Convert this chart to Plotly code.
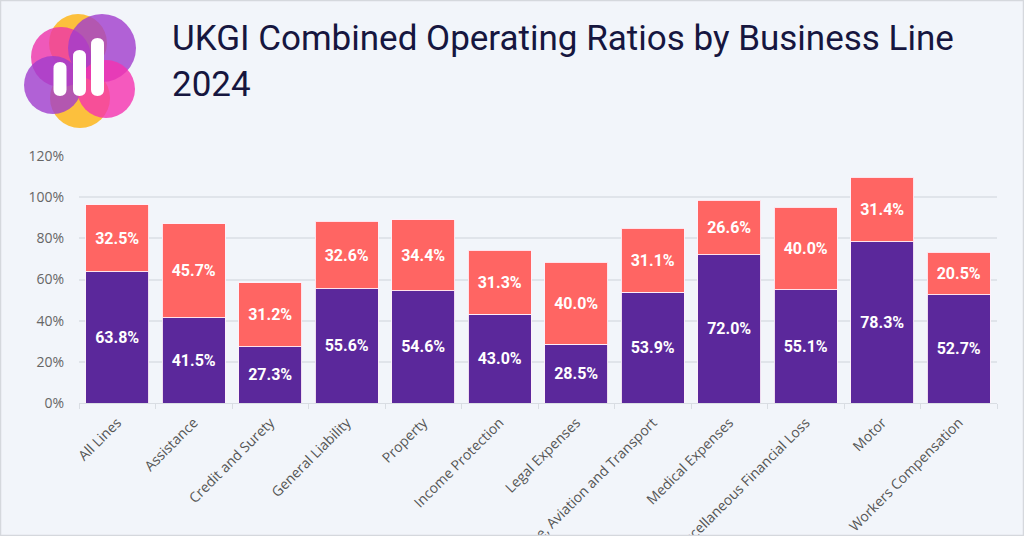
import plotly.graph_objects as go

categories = ["All Lines", "Assistance", "Credit and Surety", "General Liability", "Property",
              "Income Protection", "Legal Expenses", "Marine, Aviation and Transport",
              "Medical Expenses", "Miscellaneous Financial Loss", "Motor", "Workers Compensation"]
claims_ratio = [63.8, 41.5, 27.3, 55.6, 54.6, 43.0, 28.5, 53.9, 72.0, 55.1, 78.3, 52.7]
expense_ratio = [32.5, 45.7, 31.2, 32.6, 34.4, 31.3, 40.0, 31.1, 26.6, 40.0, 31.4, 20.5]
y_ticks = [0, 20, 40, 60, 80, 100, 120]
y_tick_labels = [f"{v}%" for v in y_ticks]

W, H = 1024, 536
L, R, T, B = 79, 27, 156, 133
PW, PH = W - L - R, H - T - B

def px(x):
    return (x - L) / PW

def py(y):
    return (H - B - y) / PH

PURPLE = "#5B289B"
SALMON = "#FF6563"
BG = "#F2F5FA"

fig = go.Figure()
fig.add_trace(go.Bar(
    x=categories, y=claims_ratio, name="Claims",
    marker=dict(color=PURPLE, line=dict(color="rgba(255,240,250,0.9)", width=1)),
    text=[f"{v:.1f}%" for v in claims_ratio], textposition="inside", insidetextanchor="middle",
    textfont=dict(family="Roboto", size=16, color="white", weight="bold"),
    textangle=0, hoverinfo="skip"))
fig.add_trace(go.Bar(
    x=categories, y=expense_ratio, name="Expenses",
    marker=dict(color=SALMON, line=dict(color="rgba(255,240,250,0.9)", width=1)),
    text=[f"{v:.1f}%" for v in expense_ratio], textposition="inside", insidetextanchor="middle",
    textfont=dict(family="Roboto", size=16, color="white", weight="bold"),
    textangle=0, hoverinfo="skip"))

shapes = []
# outer border
shapes.append(dict(type="rect", xref="paper", yref="paper",
                   x0=px(0.5), x1=px(W - 0.5), y0=py(H - 0.5), y1=py(0.5),
                   line=dict(color="#D5D8DD", width=1.5), fillcolor="rgba(0,0,0,0)", layer="above"))

# logo circles (cx, cy, r, color)
circles = [
    (78, 43, 29, "rgba(253,186,40,0.9)"),
    (80, 98, 30, "rgba(253,186,40,0.9)"),
    (61, 57, 30, "rgba(238,50,170,0.8)"),
    (102, 48, 34, "rgba(160,60,205,0.8)"),
    (53, 85, 29, "rgba(160,60,205,0.8)"),
    (106, 89, 29, "rgba(245,50,175,0.8)"),
]
for cx, cy, r, col in circles:
    shapes.append(dict(type="circle", xref="paper", yref="paper",
                       x0=px(cx - r), x1=px(cx + r), y0=py(cy + r), y1=py(cy - r),
                       fillcolor=col, line=dict(width=0), layer="above"))

# white rounded bars of the logo
def rounded_bar(x0, x1, top, bottom):
    rr = (x1 - x0) / 2
    xm = (x0 + x1) / 2
    pts = [
        f"M{px(x0)},{py(top + rr)}",
        f"Q{px(x0)},{py(top)} {px(xm)},{py(top)}",
        f"Q{px(x1)},{py(top)} {px(x1)},{py(top + rr)}",
        f"L{px(x1)},{py(bottom - rr)}",
        f"Q{px(x1)},{py(bottom)} {px(xm)},{py(bottom)}",
        f"Q{px(x0)},{py(bottom)} {px(x0)},{py(bottom - rr)}",
        "Z",
    ]
    return " ".join(pts)

for x0, x1, top, bottom in [(53.5, 66.5, 62, 96), (73, 86, 50, 96), (91, 104, 38, 96)]:
    shapes.append(dict(type="path", xref="paper", yref="paper", path=rounded_bar(x0, x1, top, bottom),
                       fillcolor="white", line=dict(width=0), layer="above"))

fig.update_layout(
    width=W, height=H,
    margin=dict(l=L, r=R, t=T, b=B, autoexpand=False),
    paper_bgcolor=BG, plot_bgcolor=BG,
    barmode="stack", bargap=0.175,
    showlegend=False,
    shapes=shapes,
    annotations=[dict(
        text="UKGI Combined Operating Ratios by Business Line<br>2024",
        xref="paper", yref="paper", x=px(170), y=py(16),
        xanchor="left", yanchor="top", align="left", showarrow=False,
        font=dict(family="Roboto", size=35, color="#16163F"))],
    xaxis=dict(
        type="category", tickangle=-45, tickson="boundaries", ticks="outside", ticklen=5,
        tickcolor="#D9DDE3", showline=True, linecolor="#D9DDE3", linewidth=1,
        showgrid=False, automargin=False, ticklabelstandoff=5,
        tickfont=dict(family="Open Sans", size=14, color="#555555")),
    yaxis=dict(
        range=[0, 120], tickmode="array", tickvals=y_ticks, ticktext=y_tick_labels, showgrid=True,
        gridcolor="#E0E4EA", gridwidth=1.5, zeroline=False, showline=False,
        automargin=False, ticklabelstandoff=14,
        tickfont=dict(family="Open Sans", size=14, color="#666666")),
)

fig.write_html("out.html")
